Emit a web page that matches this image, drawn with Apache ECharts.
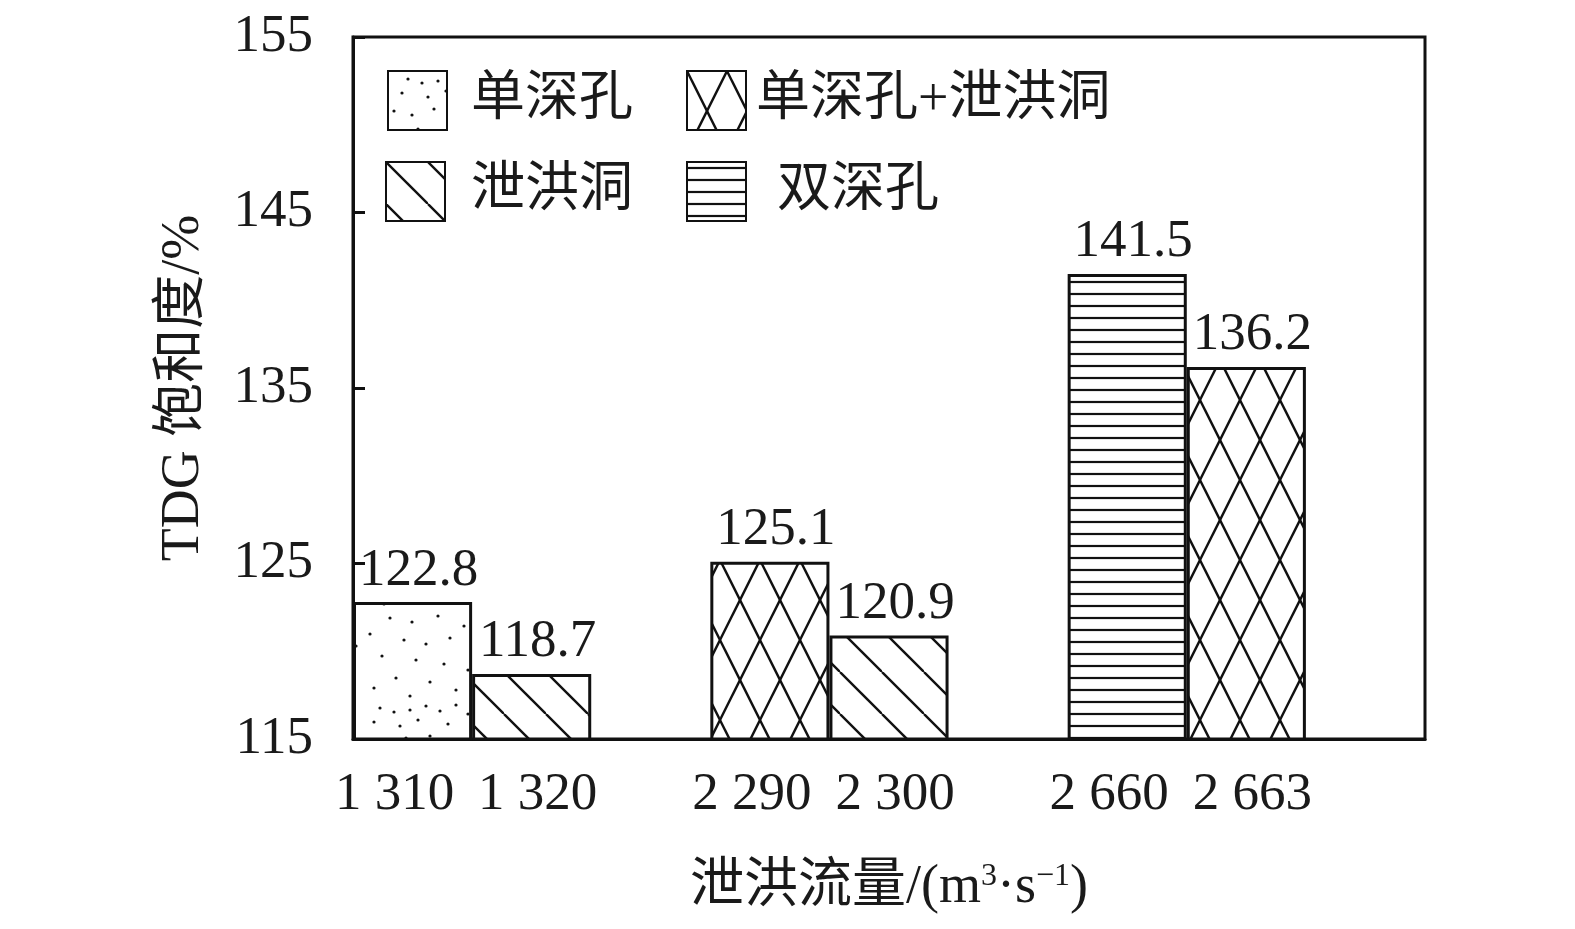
<!DOCTYPE html>
<html><head><meta charset="utf-8">
<script src="https://cdn.jsdelivr.net/npm/echarts@6/dist/echarts.min.js"></script>
<style>html,body{margin:0;padding:0;background:#fff}#c{width:1575px;height:929px}</style>
</head><body><div id="c"></div>
<script>
// ---- data ----
const categories = ['1 310', '1 320', '', '2 290', '2 300', '', '2 660', '2 663', ''];
const singleDeep      = [122.8, null, null, null, null, null, null, null, null];   // 单深孔
const singleDeepTunnel= [null, null, null, 125.1, null, null, null, 136.2, null];   // 单深孔+泄洪洞
const tunnel          = [null, 118.7, null, null, 120.9, null, null, null, null];   // 泄洪洞
const doubleDeep      = [null, null, null, null, null, null, 141.5, null, null];   // 双深孔
const yTicks = [115, 125, 135, 145, 155];

// ---- patterns ----
function tile(w, h, draw) {
  const c = document.createElement('canvas');
  c.width = w; c.height = h;
  const g = c.getContext('2d');
  g.fillStyle = '#fff'; g.fillRect(0, 0, w, h);
  g.strokeStyle = '#111'; g.fillStyle = '#111';
  draw(g, w, h);
  return c;
}
const dotPts = [[20,8],[34,12],[50,10],[66,6],[80,11],[96,5],[108,14],[14,22],[40,26],[58,20],[88,24],[112,30],[6,40],[24,44],[46,38],[70,36],[100,42],[30,58],[52,62],[78,56],[104,66],[10,74],[44,80],[66,84],[90,78],[116,86],[22,96],[56,100],[84,104],[108,110],[36,118],[70,122],[14,128],[96,130],[50,136]];
const patDots = tile(120, 140, g => { dotPts.forEach(p => { g.beginPath(); g.arc(p[0], p[1], 1.6, 0, Math.PI*2); g.fill(); }); });
const patDiag = tile(42, 42, (g, w, h) => {
  g.lineWidth = 2.4;
  [-w, 0, w].forEach(x0 => { g.beginPath(); g.moveTo(x0, 0); g.lineTo(x0 + w, h); g.stroke(); });
});
const patCross = tile(40, 80, (g, w, h) => {
  g.lineWidth = 2.4;
  [-1, 0, 1].forEach(k => { g.beginPath(); g.moveTo(-w, -2*w + 80*k); g.lineTo(2*w, 4*w + 80*k); g.stroke(); });
  [0, 1, 2].forEach(k => { g.beginPath(); g.moveTo(-w, 2*w + 80*k - 80); g.lineTo(2*w, -4*w + 80*k - 80); g.stroke(); });
});
const patHoriz = tile(20, 12, (g, w, h) => {
  g.lineWidth = 2.2;
  g.beginPath(); g.moveTo(0, 6); g.lineTo(w, 6); g.stroke();
});

const serif = "'Liberation Serif', 'Noto Sans CJK SC', serif";
const txt = '#1a1a1a';
const numSize = 53, cjkSize = 54;

function barSeries(name, data, pat) {
  return {
    name, type: 'bar', data,
    barWidth: '100%', barGap: '-100%',
    itemStyle: { color: { image: pat, repeat: 'repeat' }, borderColor: '#111', borderWidth: 3 },
    label: { show: true, position: 'top', distance: 5, offset: [6, 0], fontFamily: serif, fontSize: numSize, color: txt,
             formatter: p => p.value.toFixed(1) },
    emphasis: { disabled: true }
  };
}

function legendAt(name, left, top, pad) {
  return {
    data: [name], left, top, icon: 'rect', itemWidth: 59, itemHeight: 59, selectedMode: false, padding: 0,
    textStyle: { fontFamily: serif, fontSize: cjkSize, color: txt, padding: [6, 0, 0, pad] }
  };
}

const chart = echarts.init(document.getElementById('c'), null, { renderer: 'canvas' });
chart.setOption({
  animation: false,
  backgroundColor: '#fff',
  grid: { left: 353, right: 150, top: 37, bottom: 190, show: true, borderColor: '#111', borderWidth: 3, backgroundColor: 'transparent' },
  legend: [
    legendAt('单深孔', 387, 70, 19),
    legendAt('单深孔+泄洪洞', 686, 70, 5),
    legendAt('泄洪洞', 385, 161, 21),
    legendAt('双深孔', 686, 161, 26)
  ],
  xAxis: {
    type: 'category', data: categories,
    axisLine: { lineStyle: { color: '#111', width: 3 } },
    axisTick: { show: false },
    axisLabel: {
      interval: 0, margin: 30, fontFamily: serif, fontSize: numSize, color: txt,
      formatter: (v, i) => v === '' ? '' : (i % 3 === 0 ? '{a|' + v + '}' : '{b|' + v + '}'),
      rich: {
        a: { fontFamily: serif, fontSize: numSize, color: txt, padding: [0, 36, 0, 0] },
        b: { fontFamily: serif, fontSize: numSize, color: txt, padding: [0, 0, 0, 12] }
      }
    },
    name: '泄洪流量/(m{s|3}·s{s|−1})',
    nameLocation: 'middle', nameGap: 122,
    nameTextStyle: { fontFamily: serif, fontSize: cjkSize, color: txt,
      rich: { s: { fontFamily: serif, fontSize: 32, color: txt, verticalAlign: 'top', padding: [0, 0, 18, 0] } } }
  },
  yAxis: {
    type: 'value', min: yTicks[0], max: yTicks[yTicks.length - 1], interval: 10,
    axisLine: { show: true, lineStyle: { color: '#111', width: 3 } },
    axisTick: { show: true, inside: true, length: 12, lineStyle: { color: '#111', width: 3 } },
    splitLine: { show: false },
    axisLabel: { margin: 40, fontFamily: serif, fontSize: numSize, color: txt },
    name: 'TDG 饱和度/%', nameLocation: 'middle', nameGap: 142,
    nameTextStyle: { fontFamily: serif, fontSize: cjkSize, color: txt }
  },
  series: [
    barSeries('单深孔', singleDeep, patDots),
    barSeries('单深孔+泄洪洞', singleDeepTunnel, patCross),
    barSeries('泄洪洞', tunnel, patDiag),
    barSeries('双深孔', doubleDeep, patHoriz)
  ]
});
</script>
</body></html>
